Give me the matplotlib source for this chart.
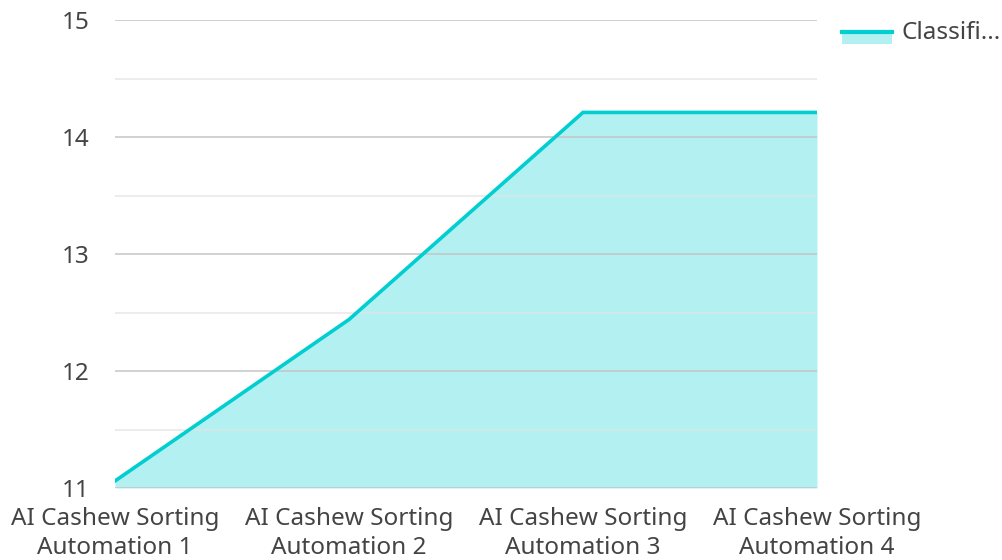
import matplotlib
matplotlib.use("Agg")
import matplotlib.pyplot as plt
from matplotlib.patches import Rectangle
from matplotlib.lines import Line2D

categories = ["AI Cashew Sorting\nAutomation 1", "AI Cashew Sorting\nAutomation 2",
              "AI Cashew Sorting\nAutomation 3", "AI Cashew Sorting\nAutomation 4"]
values = [11.06, 12.44, 14.21, 14.21]
series_name = "Classifi..."
y_ticks = [11, 12, 13, 14, 15]
y_minor = [11.5, 12.5, 13.5, 14.5]

plt.rcParams['font.family'] = ['Noto Sans', 'DejaVu Sans']
line_color = '#00CED1'
text_color = '#444444'

W, H = 1003, 560
fig = plt.figure(figsize=(W/100, H/100), dpi=100)
ax = fig.add_axes([115/W, (H-488)/H, 702/W, 468/H])

x = list(range(len(categories)))
ax.fill_between(x, values, 11, color=line_color, alpha=0.30, linewidth=0, zorder=1)
ax.plot(x, values, color=line_color, linewidth=2.6, zorder=3, solid_joinstyle='miter')

ax.set_xlim(0, len(categories)-1)
ax.set_ylim(11, 15)
ax.set_yticks(y_ticks)
ax.set_yticklabels([str(t) for t in y_ticks])
for t in y_ticks:
    ax.axhline(t, color='#c4c4c4', linewidth=1.2, zorder=2, alpha=0.9)
for t in y_minor:
    ax.axhline(t, color='#e3e3e3', linewidth=1.2, zorder=2, alpha=0.8)
ax.set_xticks(x)
ax.set_xticklabels(categories)
ax.tick_params(axis='both', length=0, labelsize=17.5, colors=text_color)
ax.tick_params(axis='y', pad=18.5)
ax.tick_params(axis='x', pad=13.5)
for lbl in ax.get_xticklabels():
    lbl.set_linespacing(1.3)
for s in ax.spines.values():
    s.set_visible(False)

# legend
fig.add_artist(Rectangle((842/W, (H-44)/H), 50/W, 12/H, transform=fig.transFigure,
                         facecolor=line_color, alpha=0.30, edgecolor='none'))
fig.add_artist(Line2D([842/W, 892/W], [(H-32)/H, (H-32)/H], transform=fig.transFigure,
                      color=line_color, linewidth=3))
fig.text(902/W, (H-33)/H, series_name, fontsize=17.5, color=text_color, va='center', ha='left')

fig.savefig("out.png", dpi=100)
